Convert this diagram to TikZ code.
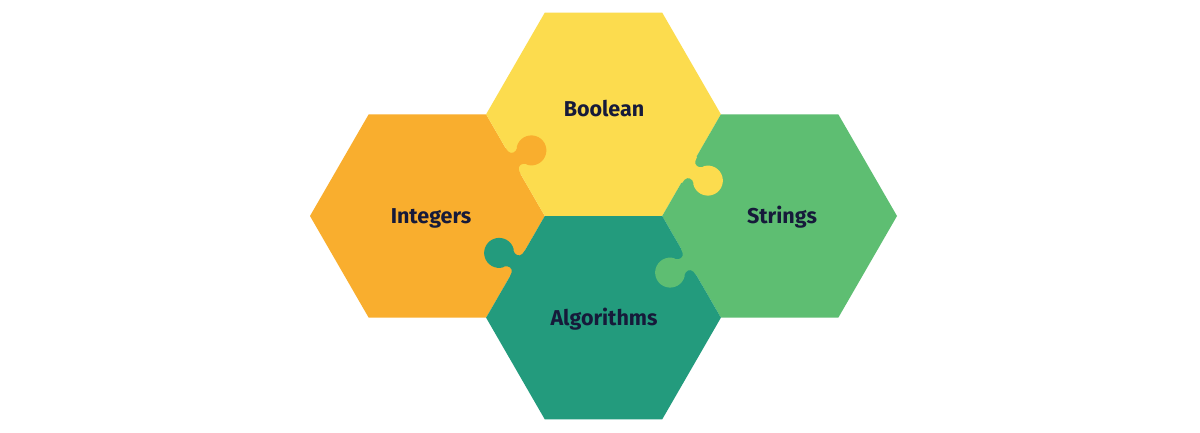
\documentclass[tikz,border=0pt]{standalone}
\usepackage{fontspec}
\setmainfont{Fira Sans}
\definecolor{cyellow}{HTML}{FCDC4E}
\definecolor{corange}{HTML}{F9AE2E}
\definecolor{cgreen}{HTML}{5EBE72}
\definecolor{cteal}{HTML}{239B7D}
\definecolor{ctext}{HTML}{161A3A}
\newcommand\puzzleknob[4]{%
  \begin{scope}[shift={(#2,#3)}, rotate=#4, x=1pt, y=1pt]
    \fill[#1] (-15,-3) -- (-15,0) .. controls (-8.5,0) and (-6,3) .. (-7.5,7.5)
      .. controls (-8.5,9.5) and (-9.5,10.5) .. (-10.6,10.6)
      arc[start angle=225, end angle=-45, radius=15]
      .. controls (9.5,10.5) and (8.5,9.5) .. (7.5,7.5)
      .. controls (6,3) and (8.5,0) .. (15,0) -- (15,-3) -- cycle;
  \end{scope}}
\tikzset{
  lbl/.style={font=\bfseries\fontsize{21.5}{26}\selectfont, text=ctext, anchor=base, inner sep=0pt}
}
\begin{document}
\begin{tikzpicture}[x=1pt, y=-1pt]
\useasboundingbox (0,0) rectangle (1200,433);
\fill[white] (0,0) rectangle (1200,433);
% hexagons
\fill[corange] (310,216) -- (368.7,114.3) -- (486.1,114.3) -- (544.8,216) -- (486.1,317.7) -- (368.7,317.7) -- cycle;
\fill[cyellow] (486.1,114.3) -- (544.8,12.6) -- (662.2,12.6) -- (720.9,114.3) -- (662.2,216) -- (544.8,216) -- cycle;
\fill[cgreen] (662.2,216) -- (720.9,114.3) -- (838.3,114.3) -- (897,216) -- (838.3,317.7) -- (720.9,317.7) -- cycle;
\fill[cteal] (486.1,317.7) -- (544.8,216) -- (662.2,216) -- (720.9,317.7) -- (662.2,419.4) -- (544.8,419.4) -- cycle;
% puzzle knobs
\puzzleknob{corange}{513}{161}{-60}
\puzzleknob{cteal}{517.5}{263.5}{60}
\puzzleknob{cyellow}{689.5}{170}{-120}
\puzzleknob{cgreen}{688.5}{262}{120}
% labels
\node[lbl] (boolean) at (604,116.5) {Boolean};
\node[lbl] (integers) at (431,223.5) {Integers};
\node[lbl] (strings) at (782,223.5) {Strings};
\node[lbl] (algorithms) at (604,325.5) {Algorithms};
\end{tikzpicture}
\end{document}
